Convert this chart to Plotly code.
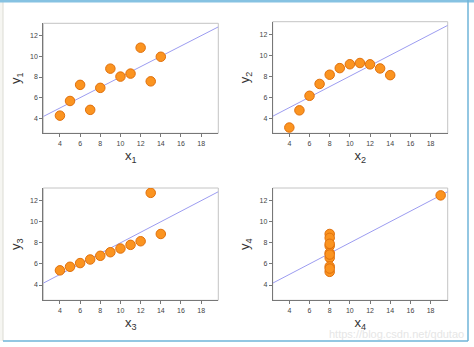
import numpy as np
import plotly.graph_objects as go

# Anscombe's quartet
x123 = [10, 8, 13, 9, 11, 14, 6, 4, 12, 7, 5]
y1 = [8.04, 6.95, 7.58, 8.81, 8.33, 9.96, 7.24, 4.26, 10.84, 4.82, 5.68]
y2 = [9.14, 8.14, 8.74, 8.77, 9.26, 8.10, 6.13, 3.10, 9.13, 7.26, 4.74]
y3 = [7.46, 6.77, 12.74, 7.11, 7.81, 8.84, 6.08, 5.39, 8.15, 6.42, 5.73]
x4 = [8, 8, 8, 8, 8, 8, 8, 19, 8, 8, 8]
y4 = [6.58, 5.76, 7.71, 8.84, 8.47, 7.04, 5.25, 12.50, 5.56, 7.91, 6.89]

x_ticks = [4, 6, 8, 10, 12, 14, 16, 18]
y_ticks = [4, 6, 8, 10, 12]

panels = [(x123, y1), (x123, y2), (x123, y3), (x4, y4)]

W, H = 474, 347
XR = [2.35, 19.7]
YR = [2.55, 13.2]

# panel boxes in pixels: (left, right, top, bottom)
boxes = [
    (43.3, 218.3, 23.3, 133.3),
    (272.7, 447.7, 21.7, 133.3),
    (43.3, 218.3, 188.0, 300.3),
    (272.7, 447.7, 188.0, 300.3),
]

fig = go.Figure()
FONT = "Liberation Sans, Arial, sans-serif"
shapes = []

for i, ((xs, ys), (l, r, t, b)) in enumerate(zip(panels, boxes), start=1):
    xa = "x" if i == 1 else f"x{i}"
    ya = "y" if i == 1 else f"y{i}"
    slope, icpt = np.polyfit(xs, ys, 1)
    lx = np.array(XR)
    fig.add_trace(go.Scatter(
        x=lx, y=icpt + slope * lx, mode="lines",
        line=dict(color="#9c9cf0", width=1),
        xaxis=xa, yaxis=ya, hoverinfo="skip", showlegend=False))
    fig.add_trace(go.Scatter(
        x=xs, y=ys, mode="markers",
        marker=dict(size=9.5, color="#fb9420", line=dict(color="#e0700c", width=1)),
        xaxis=xa, yaxis=ya, showlegend=False))

    ax_common = dict(
        showgrid=False, zeroline=False, showline=True, linecolor="#777777",
        linewidth=1, ticks="outside", ticklen=3, tickcolor="#777777",
        tickfont=dict(family=FONT, size=7, color="#444444"),
        automargin=False, fixedrange=True,
    )
    fig.layout[f"xaxis{'' if i == 1 else i}"] = dict(
        ax_common, domain=[l / W, r / W], range=XR, tickvals=x_ticks,
        anchor=ya,
        title=dict(text=f"x<sub>{i}</sub>", standoff=5,
                   font=dict(family=FONT, size=13, color="#333333")),
    )
    fig.layout[f"yaxis{'' if i == 1 else i}"] = dict(
        ax_common, domain=[1 - b / H, 1 - t / H], range=YR, tickvals=y_ticks,
        anchor=xa,
        title=dict(text=f"y<sub>{i}</sub>", standoff=6,
                   font=dict(family=FONT, size=13, color="#333333")),
    )
    # light box around the plotting region
    shapes.append(dict(type="rect", xref=f"{xa} domain", yref=f"{ya} domain",
                       x0=0, x1=1, y0=0, y1=1,
                       line=dict(color="#c4c4c4", width=1), layer="below"))

# page frame
shapes += [
    dict(type="rect", xref="paper", yref="paper", x0=0, x1=3 / W, y0=1 - 341 / H, y1=1,
         fillcolor="#f6f6f2", line=dict(width=0), layer="below"),
    dict(type="line", xref="paper", yref="paper", x0=3 / W, x1=3 / W, y0=1 - 341 / H, y1=1,
         line=dict(color="#dcdcd4", width=1)),
    dict(type="rect", xref="paper", yref="paper", x0=0, x1=1, y0=1 - 2.5 / H, y1=1,
         fillcolor="#86c2e2", line=dict(width=0)),
    dict(type="line", xref="paper", yref="paper", x0=468 / W, x1=468 / W, y0=1 - 341 / H, y1=1,
         line=dict(color="#6fb4d8", width=1.5)),
    dict(type="line", xref="paper", yref="paper", x0=3 / W, x1=468 / W, y0=1 - 341 / H, y1=1 - 341 / H,
         line=dict(color="#6fb4d8", width=1.5)),
]

fig.update_layout(
    width=W, height=H,
    margin=dict(l=0, r=0, t=0, b=0),
    paper_bgcolor="white", plot_bgcolor="white",
    shapes=shapes,
    annotations=[dict(text="https://blog.csdn.net/qdutao", xref="paper", yref="paper",
                      x=466 / W, y=1 - 334 / H, xanchor="right", yanchor="middle",
                      showarrow=False,
                      font=dict(family=FONT, size=11, color="#e6e6e6"))],
)

fig.write_html("out.html")
